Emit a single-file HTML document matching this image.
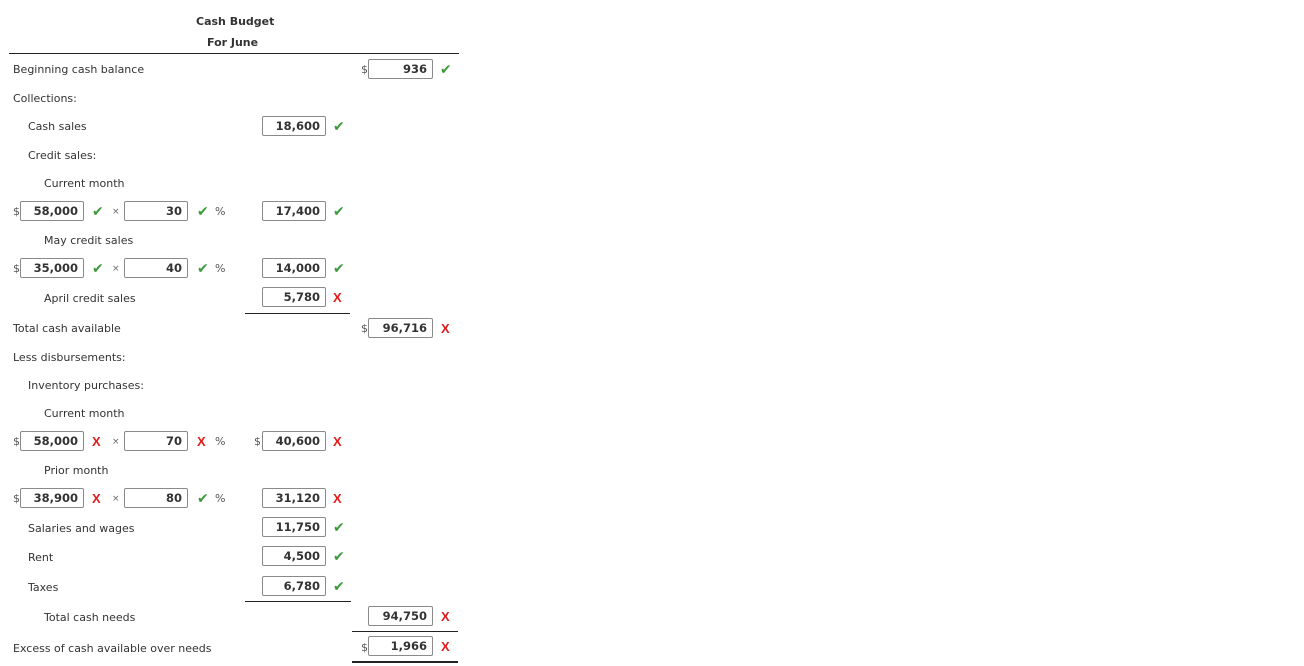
<!DOCTYPE html>
<html><head><meta charset="utf-8"><style>
body{margin:0;width:1304px;height:666px;background:#fff;position:relative;font-family:"DejaVu Sans","Liberation Sans",sans-serif;color:#333;overflow:hidden}
.t{position:absolute;font-size:11px;line-height:14px;white-space:nowrap;margin-top:1px}
.h{position:absolute;font-size:11px;font-weight:bold;line-height:14px;white-space:nowrap;margin-top:1px}
.b{position:absolute;height:18px;border:1px solid #8a8a8a;border-radius:2px;font-size:11.5px;font-weight:bold;text-align:right;padding-right:5px;line-height:19px;box-sizing:content-box;color:#333}
.ok{position:absolute;color:#3c9a3c;font-size:14px;font-weight:bold;line-height:14px;margin-top:1px}
.no{position:absolute;color:#e31b1b;font-size:13px;font-weight:bold;line-height:14px;font-family:"Liberation Sans",sans-serif;margin-top:1px}
.l{position:absolute;background:#222;height:1px}
.d{position:absolute;font-size:11px;color:#555;line-height:14px;margin-top:1px}
.x{position:absolute;font-size:9px;color:#666;line-height:14px;margin-top:1px}
</style></head><body>
<div class="h" style="left:196px;top:14px">Cash Budget</div>
<div class="h" style="left:207px;top:35px">For June</div>
<div class="l" style="left:9px;top:53px;width:450px"></div>

<div class="t" style="left:13px;top:62px">Beginning cash balance</div>
<div class="d" style="left:361px;top:62px">$</div><div class="b" style="left:368px;top:59px;width:58px">936</div><div class="ok" style="left:440px;top:62px">✔</div>

<div class="t" style="left:13px;top:91px">Collections:</div>
<div class="t" style="left:28px;top:119px">Cash sales</div>
<div class="b" style="left:262px;top:116px;width:57px">18,600</div><div class="ok" style="left:333px;top:119px">✔</div>
<div class="t" style="left:28px;top:148px">Credit sales:</div>
<div class="t" style="left:44px;top:176px">Current month</div>

<div class="d" style="left:13px;top:204px">$</div><div class="b" style="left:20px;top:201px;width:57px">58,000</div><div class="ok" style="left:92px;top:204px">✔</div>
<div class="x" style="left:112px;top:204px">×</div><div class="b" style="left:124px;top:201px;width:57px">30</div><div class="ok" style="left:197px;top:204px">✔</div><div class="d" style="left:215px;top:204px">%</div>
<div class="b" style="left:262px;top:201px;width:57px">17,400</div><div class="ok" style="left:333px;top:204px">✔</div>

<div class="t" style="left:44px;top:233px">May credit sales</div>
<div class="d" style="left:13px;top:261px">$</div><div class="b" style="left:20px;top:258px;width:57px">35,000</div><div class="ok" style="left:92px;top:261px">✔</div>
<div class="x" style="left:112px;top:261px">×</div><div class="b" style="left:124px;top:258px;width:57px">40</div><div class="ok" style="left:197px;top:261px">✔</div><div class="d" style="left:215px;top:261px">%</div>
<div class="b" style="left:262px;top:258px;width:57px">14,000</div><div class="ok" style="left:333px;top:261px">✔</div>

<div class="t" style="left:44px;top:291px">April credit sales</div>
<div class="b" style="left:262px;top:287px;width:57px">5,780</div><div class="no" style="left:333px;top:290px">X</div>
<div class="l" style="left:245px;top:313px;width:105px"></div>

<div class="t" style="left:13px;top:321px">Total cash available</div>
<div class="d" style="left:361px;top:321px">$</div><div class="b" style="left:368px;top:318px;width:58px">96,716</div><div class="no" style="left:441px;top:321px">X</div>

<div class="t" style="left:13px;top:350px">Less disbursements:</div>
<div class="t" style="left:28px;top:378px">Inventory purchases:</div>
<div class="t" style="left:44px;top:406px">Current month</div>

<div class="d" style="left:13px;top:434px">$</div><div class="b" style="left:20px;top:431px;width:57px">58,000</div><div class="no" style="left:92px;top:434px">X</div>
<div class="x" style="left:112px;top:434px">×</div><div class="b" style="left:124px;top:431px;width:57px">70</div><div class="no" style="left:197px;top:434px">X</div><div class="d" style="left:215px;top:434px">%</div>
<div class="d" style="left:254px;top:434px">$</div><div class="b" style="left:262px;top:431px;width:57px">40,600</div><div class="no" style="left:333px;top:434px">X</div>

<div class="t" style="left:44px;top:463px">Prior month</div>
<div class="d" style="left:13px;top:491px">$</div><div class="b" style="left:20px;top:488px;width:57px">38,900</div><div class="no" style="left:92px;top:491px">X</div>
<div class="x" style="left:112px;top:491px">×</div><div class="b" style="left:124px;top:488px;width:57px">80</div><div class="ok" style="left:197px;top:491px">✔</div><div class="d" style="left:215px;top:491px">%</div>
<div class="b" style="left:262px;top:488px;width:57px">31,120</div><div class="no" style="left:333px;top:491px">X</div>

<div class="t" style="left:28px;top:521px">Salaries and wages</div>
<div class="b" style="left:262px;top:517px;width:57px">11,750</div><div class="ok" style="left:333px;top:520px">✔</div>
<div class="t" style="left:28px;top:550px">Rent</div>
<div class="b" style="left:262px;top:546px;width:57px">4,500</div><div class="ok" style="left:333px;top:549px">✔</div>
<div class="t" style="left:28px;top:580px">Taxes</div>
<div class="b" style="left:262px;top:576px;width:57px">6,780</div><div class="ok" style="left:333px;top:579px">✔</div>
<div class="l" style="left:245px;top:601px;width:106px"></div>

<div class="t" style="left:44px;top:610px">Total cash needs</div>
<div class="b" style="left:368px;top:606px;width:58px">94,750</div><div class="no" style="left:441px;top:609px">X</div>
<div class="l" style="left:352px;top:631px;width:106px"></div>

<div class="t" style="left:13px;top:641px">Excess of cash available over needs</div>
<div class="d" style="left:361px;top:640px">$</div><div class="b" style="left:368px;top:636px;width:58px">1,966</div><div class="no" style="left:441px;top:639px">X</div>
<div class="l" style="left:352px;top:661px;width:106px;height:2px"></div>
</body></html>
